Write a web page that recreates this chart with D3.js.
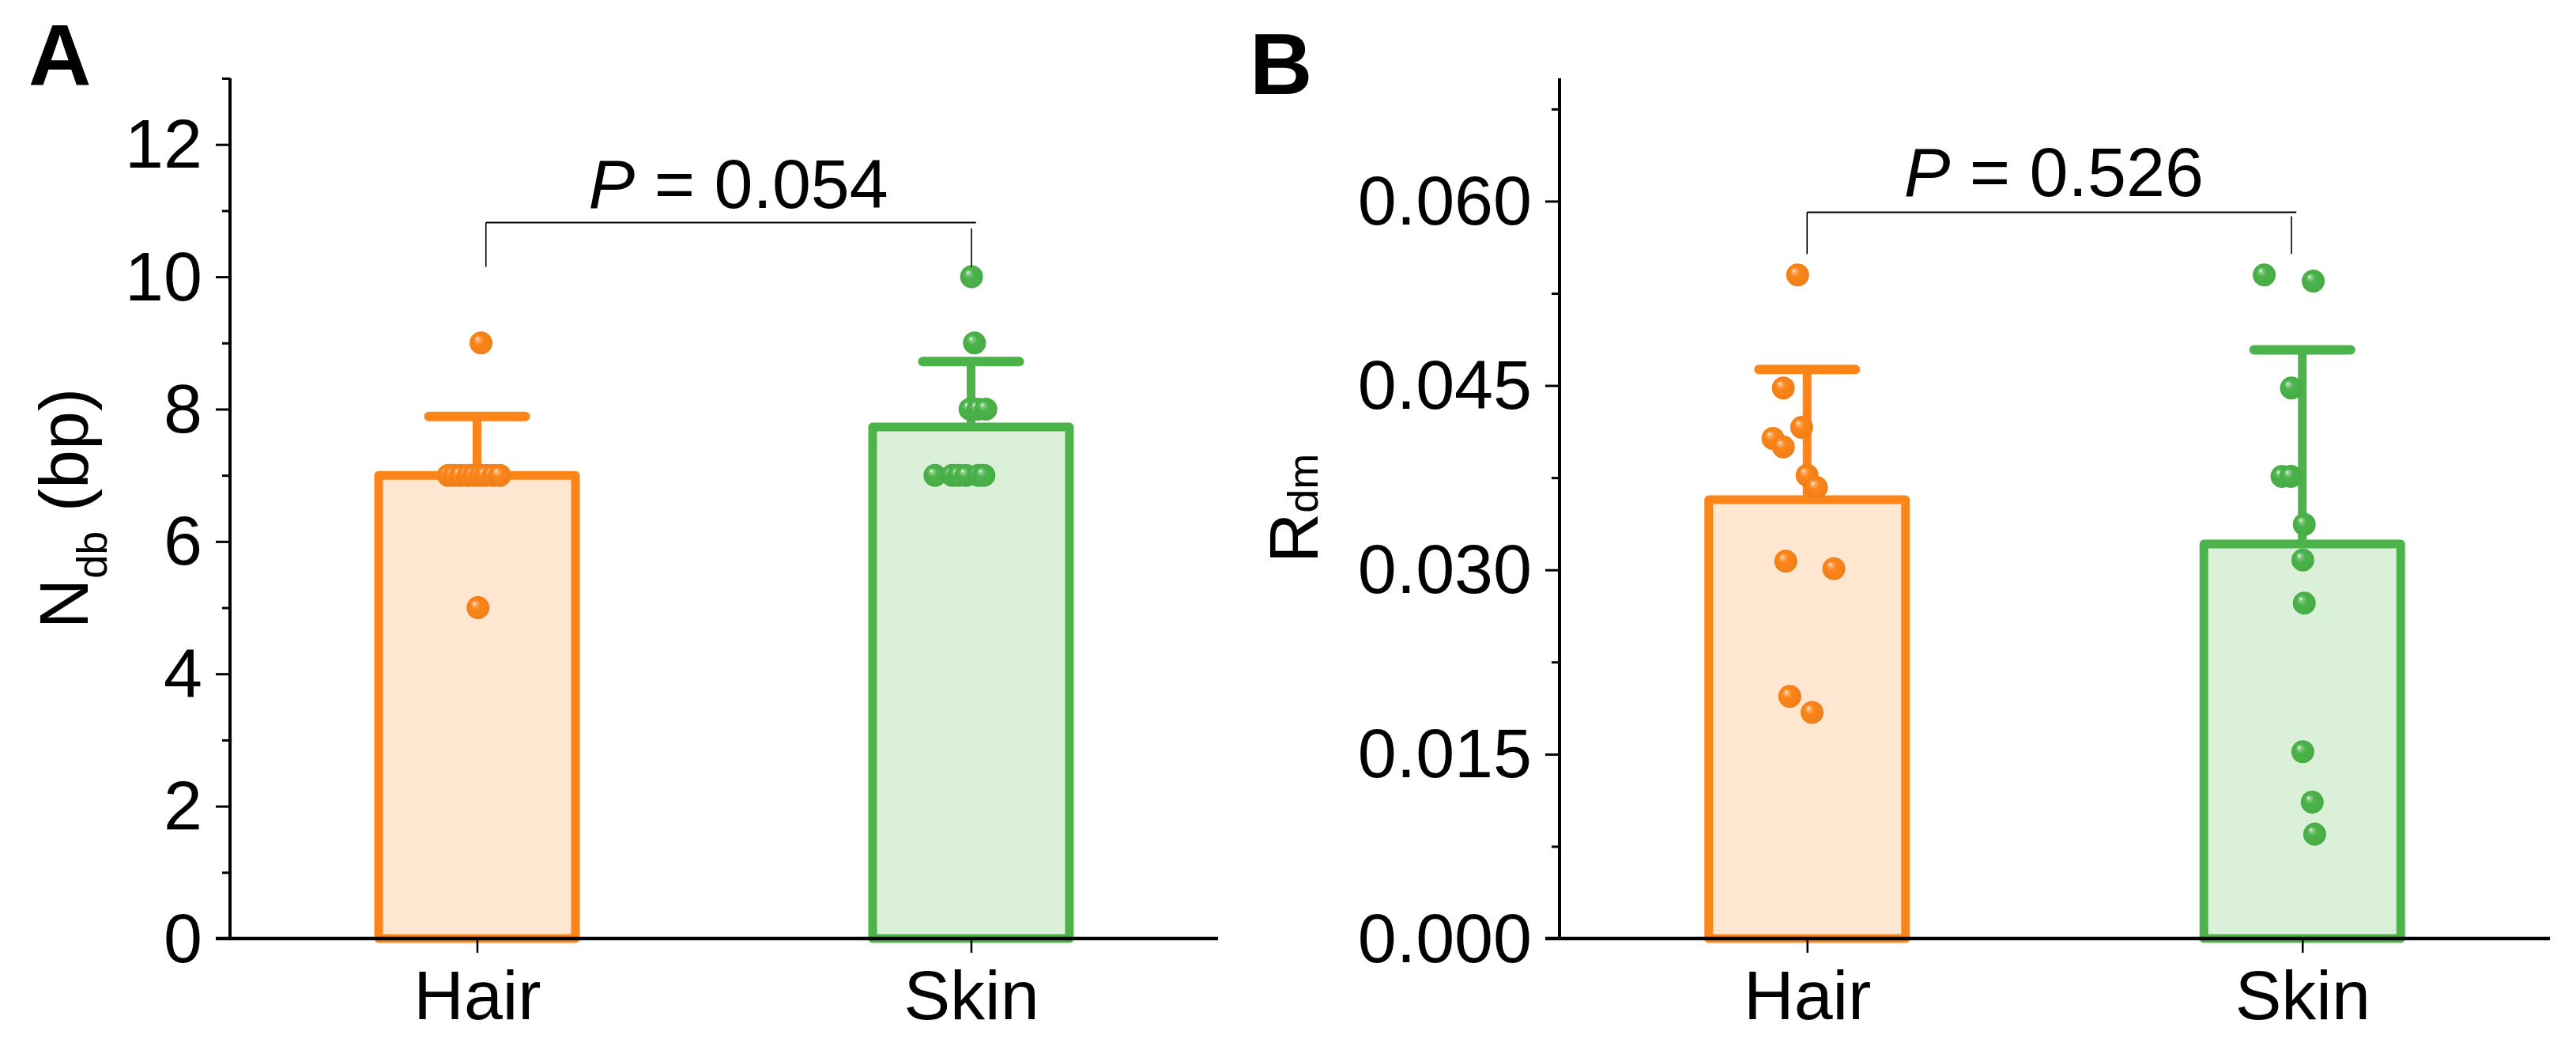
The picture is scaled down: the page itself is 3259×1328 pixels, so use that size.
<!DOCTYPE html>
<html>
<head>
<meta charset="utf-8">
<script src="https://cdn.jsdelivr.net/npm/d3@7"></script>
<style>
  html, body { margin: 0; padding: 0; background: #fff; }
  svg { display: block; }
  text { font-family: "Liberation Sans", Arial, sans-serif; }
</style>
</head>
<body>
<svg id="chart" width="3259" height="1328"></svg>
<script>
// ---------------- data ----------------
const categories = ["Hair", "Skin"];

// Panel A: N_db (bp)
const ndbMeans = [7.0, 7.73];
const ndbSD = [0.89, 0.99];
const ndbHair = [9, 7, 7, 7, 7, 7, 7, 7, 7, 7, 5];
const ndbHairJitter = [0.008, -0.058, -0.046, -0.033, -0.018, -0.006, 0.007, 0.018, 0.033, 0.046, 0.002];
const ndbSkin = [10, 9, 8, 8, 8, 7, 7, 7, 7, 7, 7];
const ndbSkinJitter = [0.001, 0.007, -0.002, 0.014, 0.030, -0.073, -0.038, -0.025, -0.010, 0.015, 0.026];
const ndbMajorTicks = [0, 2, 4, 6, 8, 10, 12];
const ndbMinorTicks = [1, 3, 5, 7, 9, 11, 13];
const ndbTickLabels = ["0", "2", "4", "6", "8", "10", "12"];

// Panel B: R_dm
const rdmMeans = [0.0357, 0.0321];
const rdmSD = [0.0106, 0.0158];
const rdmHair = [0.0540, 0.0448, 0.0416, 0.0407, 0.0400, 0.0377, 0.0367, 0.0307, 0.0301, 0.0197, 0.0184];
const rdmHairJitter = [-0.019, -0.048, -0.011, -0.069, -0.048, 0.000, 0.019, -0.043, 0.054, -0.035, 0.010];
const rdmSkin = [0.0540, 0.0535, 0.0448, 0.0376, 0.0376, 0.0337, 0.0308, 0.0273, 0.0152, 0.0111, 0.0085];
const rdmSkinJitter = [-0.077, 0.022, -0.022, -0.041, -0.023, 0.004, 0.001, 0.004, 0.001, 0.020, 0.025];
const rdmMajorTicks = [0, 0.015, 0.030, 0.045, 0.060];
const rdmMinorTicks = [0.0075, 0.0225, 0.0375, 0.0525, 0.0675];
const rdmTickLabels = ["0.000", "0.015", "0.030", "0.045", "0.060"];

const pValues = ["0.054", "0.526"];

// ---------------- styles ----------------
const strokeColors = ["#FB8519", "#4BB349"];
const fillColors = ["#FEE6D0", "#DBF0D9"];
const FONT = 88;

const svg = d3.select("#chart");
const defs = svg.append("defs");
strokeColors.forEach((c, i) => {
  const g = defs.append("radialGradient").attr("id", "pt" + i)
    .attr("cx", "50%").attr("cy", "50%").attr("r", "55%")
    .attr("fx", "33%").attr("fy", "30%");
  g.append("stop").attr("offset", "0%").attr("stop-color", "#ffffff").attr("stop-opacity", 0.95);
  g.append("stop").attr("offset", "14%").attr("stop-color", d3.interpolateRgb(c, "#ffffff")(0.35));
  g.append("stop").attr("offset", "38%").attr("stop-color", c);
  g.append("stop").attr("offset", "100%").attr("stop-color", d3.color(c).darker(0.15));
});

const panels = [
  {
    letter: "A", letterX: 36, letterY: 107,
    left: 291, right: 1541, top: 99, bottom: 1187, yMax: 13,
    means: ndbMeans, sd: ndbSD,
    points: [[ndbHair, ndbHairJitter], [ndbSkin, ndbSkinJitter]],
    major: ndbMajorTicks, minor: ndbMinorTicks, labels: ndbTickLabels,
    titleX: 111, title: [["N", FONT, 0], ["db", 54, 24], [" (bp)", FONT, -24]],
    p: pValues[0],
    br: { x1: 0.018, x2: 1.010, legL: 0.018, legR: 1.001, y: 10.82, yBot: 10.15, yRTop: 10.73, tx: 0.529, ty: 11.04 }
  },
  {
    letter: "B", letterX: 1581, letterY: 119,
    left: 1973, right: 3226, top: 99, bottom: 1187, yMax: 0.07,
    means: rdmMeans, sd: rdmSD,
    points: [[rdmHair, rdmHairJitter], [rdmSkin, rdmSkinJitter]],
    major: rdmMajorTicks, minor: rdmMinorTicks, labels: rdmTickLabels,
    titleX: 1667, title: [["R", FONT, 0], ["dm", 54, 0]],
    p: pValues[1],
    br: { x1: 0.0, x2: 0.988, legL: 0.0, legR: 0.978, y: 0.0591, yBot: 0.0557, yRTop: 0.05878, tx: 0.498, ty: 0.0604 }
  }
];

panels.forEach(P => {
  const x = d3.scaleLinear().domain([-0.5, 1.5]).range([P.left, P.right]);
  const y = d3.scaleLinear().domain([0, P.yMax]).range([P.bottom, P.top]);
  const g = svg.append("g");
  const barW = 249;

  // bars
  g.selectAll("rect.bar").data(P.means).join("rect")
    .attr("x", (d, i) => x(i) - barW / 2)
    .attr("y", d => y(d))
    .attr("width", barW)
    .attr("height", d => y(0) - y(d))
    .attr("fill", (d, i) => fillColors[i])
    .attr("stroke", (d, i) => strokeColors[i])
    .attr("stroke-width", 11)
    .attr("stroke-linejoin", "round");

  // error bars
  P.means.forEach((m, i) => {
    g.append("line")
      .attr("x1", x(i)).attr("x2", x(i))
      .attr("y1", y(m)).attr("y2", y(m + P.sd[i]))
      .attr("stroke", strokeColors[i]).attr("stroke-width", 11);
    g.append("line")
      .attr("x1", x(i) - 61).attr("x2", x(i) + 61)
      .attr("y1", y(m + P.sd[i])).attr("y2", y(m + P.sd[i]))
      .attr("stroke", strokeColors[i]).attr("stroke-width", 12)
      .attr("stroke-linecap", "round");
  });

  // points
  P.points.forEach(([vals, jit], i) => {
    g.selectAll(null).data(vals).join("circle")
      .attr("cx", (d, k) => x(i + jit[k]))
      .attr("cy", d => y(d))
      .attr("r", 14.5)
      .attr("fill", "url(#pt" + i + ")");
  });

  // y axis ticks
  const yMajor = d3.axisLeft(y).tickValues(P.major).tickSize(18).tickPadding(17)
    .tickFormat((d, k) => P.labels[k]).tickSizeOuter(0);
  const ya = g.append("g").attr("transform", `translate(${P.left},0)`).call(yMajor);
  ya.select(".domain").remove();
  ya.selectAll(".tick line").attr("stroke", "#000").attr("stroke-width", 3);
  ya.selectAll(".tick text").attr("font-size", FONT).attr("fill", "#000")
    .attr("font-family", '"Liberation Sans", Arial, sans-serif').attr("dy", "0.33em");

  const yMinor = d3.axisLeft(y).tickValues(P.minor).tickSize(10).tickFormat("").tickSizeOuter(0);
  const ym = g.append("g").attr("transform", `translate(${P.left},0)`).call(yMinor);
  ym.select(".domain").remove();
  ym.selectAll(".tick line").attr("stroke", "#000").attr("stroke-width", 3);

  // x axis ticks
  const xAxis = d3.axisBottom(x).tickValues([0, 1]).tickSize(18).tickPadding(22)
    .tickFormat(d => categories[d]).tickSizeOuter(0);
  const xa = g.append("g").attr("transform", `translate(0,${P.bottom})`).call(xAxis);
  xa.select(".domain").remove();
  xa.selectAll(".tick line").attr("stroke", "#000").attr("stroke-width", 2.5);
  xa.selectAll(".tick text").attr("font-size", FONT).attr("fill", "#000")
    .attr("font-family", '"Liberation Sans", Arial, sans-serif');

  // axis lines
  g.append("line").attr("x1", P.left).attr("x2", P.left)
    .attr("y1", y(P.yMax)).attr("y2", y(0) + 2)
    .attr("stroke", "#000").attr("stroke-width", 4);
  g.append("line").attr("x1", P.left - 18).attr("x2", P.right)
    .attr("y1", y(0)).attr("y2", y(0))
    .attr("stroke", "#000").attr("stroke-width", 4.5);

  // y title
  const t = g.append("text")
    .attr("transform", `translate(${P.titleX},${(P.top + P.bottom) / 2}) rotate(-90)`)
    .attr("text-anchor", "middle").attr("fill", "#000");
  P.title.forEach(([s, fs, dy]) => {
    t.append("tspan").attr("font-size", fs).attr("dy", dy).text(s);
  });

  // panel letter
  svg.append("text").attr("x", P.letterX).attr("y", P.letterY)
    .attr("font-size", 110).attr("font-weight", "bold").attr("fill", "#000")
    .text(P.letter);

  // significance bracket
  const b = P.br;
  g.append("line").attr("x1", x(b.x1)).attr("x2", x(b.x2))
    .attr("y1", y(b.y)).attr("y2", y(b.y)).attr("stroke", "#000").attr("stroke-width", 2);
  g.append("line").attr("x1", x(b.legL)).attr("x2", x(b.legL))
    .attr("y1", y(b.y)).attr("y2", y(b.yBot)).attr("stroke", "#000").attr("stroke-width", 1.6);
  g.append("line").attr("x1", x(b.legR)).attr("x2", x(b.legR))
    .attr("y1", y(b.yRTop)).attr("y2", y(b.yBot)).attr("stroke", "#000").attr("stroke-width", 1.6);
  const pt = g.append("text").attr("x", x(b.tx)).attr("y", y(b.ty))
    .attr("text-anchor", "middle").attr("font-size", FONT).attr("fill", "#000");
  pt.append("tspan").attr("font-style", "italic").text("P");
  pt.append("tspan").text(" = " + P.p);
});
</script>
</body>
</html>
